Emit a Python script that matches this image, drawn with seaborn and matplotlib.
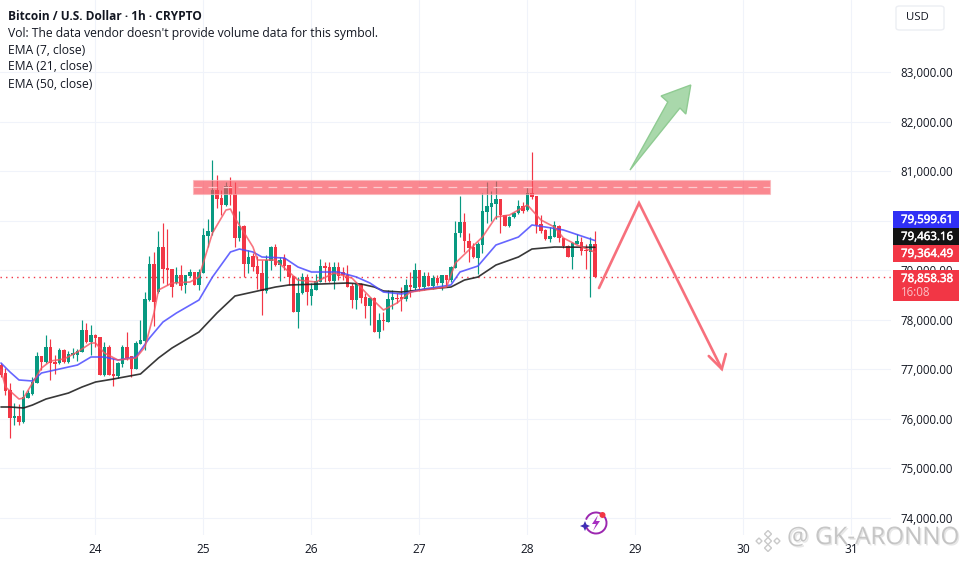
'''
BTC/USD 1h candles with EMA lines and hand drawn zone and arrows.
'''
import numpy as np
import pandas as pd
import seaborn as sns
import matplotlib.pyplot as plt
import matplotlib.patheffects as pe
from matplotlib.patches import Polygon, Rectangle, FancyBboxPatch, Ellipse, Arc
from matplotlib.ticker import FuncFormatter

opens = [77087, 76919, 76582, 76024, 76064, 75930, 76428, 76502, 76730, 77268, 77147, 77443, 77147, 77120, 77390,
         77147, 77295, 77282, 77356, 77793, 77558,
         77692, 77645, 76885, 77443, 76905, 76872, 77107, 77443, 77268, 77006, 77510, 77578, 78399, 79125, 78567,
         79468, 79045, 79018, 78735, 78897, 78702, 78890, 78964, 78702, 78950, 79690, 79778, 80619, 80457, 80316,
         80699, 80538, 79650, 79892, 79125, 79287, 79085, 78944, 78580, 79186, 79468, 79105, 79240, 79105, 78883,
         78163, 78533, 78856, 78480, 78601, 78769, 79085, 79065, 78789, 79065, 78971, 78903, 78681, 78399, 78722,
         78453, 78278, 78439, 77760, 77995, 77962, 78399, 78446, 78466, 78419, 78702, 78648, 79004, 78668, 78890,
         78688, 78836, 78735, 78903, 78803, 79052, 79744, 79980, 79596, 79462, 79253, 79516, 80182, 80283, 80336,
         80431, 80121, 79892, 80067, 80148, 80296, 80215, 80552, 80498, 79933, 79812, 79630, 79670, 79892, 79644,
         79496, 79274, 79529, 79576, 79408, 79374, 79529]
highs = [77120, 77020, 76717, 76313, 76300, 76582, 76582, 76851, 77356, 77270, 77692, 77605, 77289, 77423, 77403,
         77376, 77423, 77403, 77995, 77928, 77894,
         77712, 77659, 77558, 77490, 77221, 77154, 77490, 77760, 77270, 77578, 77995, 78560, 79287, 79368, 79791,
         79953, 79832, 79018, 79065, 79105, 78900, 79018, 78970, 79018, 79845, 80027, 81224, 80921, 80619, 80780,
         80888, 80780, 80195, 79912, 79408, 79341, 79287, 79206, 79307, 79489, 79529, 79273, 79327, 79105, 78883,
         78870, 78950, 78924, 78735, 78924, 79226, 79172, 79172, 79172, 79172, 79072, 79105, 78735, 78769, 78749,
         78534, 78453, 78466, 78130, 78164, 78601, 78601, 78547, 78668, 78816, 78971, 79152, 79004, 78971, 78971,
         78903, 78903, 78905, 78905, 79085, 79993, 80498, 80148, 79758, 79543, 79576, 80565, 80774, 80599, 80794,
         80431, 80121, 80094, 80182, 80417, 80383, 80686, 81386, 80498, 80114, 79825, 79866, 80000, 79913, 79644,
         79509, 79576, 79731, 79677, 79529, 79677, 79791]
lows = [76851, 76481, 75607, 75876, 75876, 75910, 76414, 76490, 76717, 76986, 77134, 76784, 76905, 77107, 77120,
        77120, 77221, 77174, 77350, 77537, 77289,
        77443, 76880, 76865, 76880, 76670, 76818, 77053, 77188, 76838, 77000, 77505, 77390, 78386, 77881, 78533,
        78735, 78702, 78466, 78722, 78601, 78547, 78870, 78700, 78601, 78937, 79475, 79711, 80249, 80114, 80296,
        80316, 79475, 79596, 78870, 78937, 78991, 78621, 78103, 78533, 79004, 79085, 78789, 79004, 78702, 78163,
        77827, 78520, 78298, 78298, 78600, 78755, 78769, 78769, 78621, 78802, 78802, 78665, 78244, 78210, 78332,
        78029, 77895, 77760, 77639, 77794, 77960, 78211, 78332, 78184, 78386, 78466, 78587, 78587, 78601, 78688,
        78621, 78702, 78601, 78668, 78769, 79038, 79664, 79374, 79159, 79240, 78924, 79341, 79946, 80000, 80027,
        79744, 79892, 79866, 80047, 80135, 80161, 80202, 80431, 79758, 79758, 79610, 79576, 79664, 79576, 79455,
        79274, 79025, 79529, 79307, 79025, 78466, 78858]
closes = [76885, 76569, 76010, 76064, 75943, 76434, 76515, 76750, 77268, 77147, 77443, 77134, 77100, 77390, 77147,
          77309, 77309, 77369, 77793, 77551, 77692,
          77632, 76885, 77443, 76885, 76865, 77120, 77443, 77228, 77006, 77537, 77591, 78419, 79125, 78358, 79468,
          79031, 79004, 78668, 78897, 78681, 78897, 78971, 78702, 78971, 79711, 79791, 80619, 80437, 80316, 80699,
          80518, 79643, 79892, 79125, 79267, 79065, 78924, 78580, 79206, 79468, 79105, 79206, 79085, 78870, 78163,
          78533, 78870, 78567, 78621, 78782, 79085, 79038, 78782, 79065, 78883, 78910, 78668, 78399, 78722, 78439,
          78278, 78439, 77760, 77995, 77975, 78419, 78466, 78419, 78419, 78702, 78668, 79004, 78668, 78890, 78688,
          78836, 78735, 78903, 78803, 79072, 79758, 79980, 79596, 79442, 79260, 79529, 80195, 80296, 80350, 80431,
          80121, 79892, 80067, 80161, 80296, 80202, 80552, 80471, 79913, 79785, 79630, 79691, 79913, 79644, 79489,
          79274, 79549, 79590, 79395, 79381, 79529, 78858]

ema7_hours = [-21, -20, -17, -16, -14, -12, -10, -7, -4, -1, 0, 2, 5, 9, 11, 13, 14, 17, 21, 23, 26, 29, 30, 31, 35,
              36, 40, 43, 45, 49, 53, 57, 61, 64, 67, 70, 78, 80, 83, 86, 89, 92, 96, 99, 102, 104, 107, 111]
ema7 = [76987, 76644, 76401, 76421, 76724, 77026, 77168, 77209, 77350, 77531, 77531, 77329, 77188, 77229, 77451,
        78137, 78601, 78742, 78762, 78863, 79751, 80215, 80235, 80054, 79469, 79206, 79206, 78964, 78802, 78762,
        78944, 78843, 78459, 78197, 78338, 78560, 78661, 79146, 79408, 79670, 80074, 80114, 80316, 80014, 79872,
        79650, 79509, 79364]
ema21_hours = [-21, -19, -17, -14, -12, -8, -4, -1, 2, 5, 9, 12, 15, 18, 23, 26, 30, 32, 35, 37, 42, 45, 48, 54, 58,
               61, 64, 68, 73, 79, 81, 85, 89, 94, 97, 100, 104, 111]
ema21 = [77128, 76946, 76785, 76765, 76926, 77007, 77087, 77249, 77249, 77188, 77249, 77632, 77955, 78137, 78399,
         78863, 79368, 79428, 79368, 79267, 79247, 79065, 78964, 78964, 78863, 78742, 78560, 78520, 78621, 78702,
         78964, 79085, 79509, 79670, 79913, 79872, 79812, 79599]
ema50_hours = [-21, -19, -16, -14, -11, -6, -3, 0, 4, 10, 14, 17, 23, 27, 31, 35, 40, 43, 50, 56, 59, 62, 64, 68, 74,
               79, 82, 85, 89, 94, 97, 102, 111]
ema50 = [76240, 76240, 76220, 76280, 76401, 76522, 76643, 76744, 76805, 76906, 77229, 77430, 77753, 78137, 78480,
         78560, 78661, 78702, 78722, 78742, 78722, 78661, 78581, 78560, 78621, 78661, 78802, 78863, 79105, 79267,
         79428, 79468, 79463]

day_labels = ["24", "25", "26", "27", "28", "29", "30", "31"]
day_hours = [0, 24, 48, 72, 96, 120, 144, 168]
price_ticks = [74000, 75000, 76000, 77000, 78000, 79000, 80000, 81000, 82000, 83000]
header_lines = ["Vol: The data vendor doesn't provide volume data for this symbol.",
                "EMA (7, close)", "EMA (21, close)", "EMA (50, close)"]

zone_hours = [21.7, 149.9]
zone_prices = [80538, 80821]
zone_mid = 80680
green_arrow = [(118.8, 81022), (127.2, 82395), (125.7, 82516), (132.3, 82738), (131.2, 82152), (129.9, 82274)]
red_path_hours = [111.9, 120.8, 139.2]
red_path_prices = [78641, 80356, 77007]
red_head_hours = [136.3, 139.2, 140.1]
red_head_prices = [77269, 77007, 77309]
last_price = 78858.38

UP = "#089981"
DOWN = "#f23645"
GRID = "#f0f3fa"
INK = "#131722"
FONT = "Open Sans"

sns.set_theme(style="white")
plt.rcParams["font.family"] = FONT

W, H = 964, 563
fig = plt.figure(figsize=(W / 100, H / 100), dpi=100)
ax = fig.add_axes([0, 1 - 535 / H, 891 / W, 535 / H])
ax.set_xlim(-21.22, 176.8)
ax.set_ylim(73657, 84453)
for side in ax.spines.values():
    side.set_visible(False)
ax.grid(True, color=GRID, linewidth=0.8)
ax.set_axisbelow(True)

candles = pd.DataFrame({"open": opens, "high": highs, "low": lows, "close": closes})
candles["hour"] = np.arange(len(candles)) - 21
colors = np.where(candles["close"] >= candles["open"], UP, DOWN)

ax.axhline(last_price, color=DOWN, linestyle=(0, (1, 3)), linewidth=1, zorder=1.5)
ax.vlines(candles["hour"], candles["low"], candles["high"], colors=colors, linewidth=0.85, zorder=2)
ax.bar(candles["hour"], (candles["close"] - candles["open"]).abs().clip(lower=25),
       bottom=candles[["open", "close"]].min(axis=1), width=0.8, color=colors, linewidth=0, zorder=2.1)

sns.lineplot(x=ema50_hours, y=ema50, ax=ax, color="#222222", linewidth=1.2, alpha=0.9, errorbar=None, zorder=3)
sns.lineplot(x=ema21_hours, y=ema21, ax=ax, color="#4b4bff", linewidth=1.2, alpha=0.85, errorbar=None, zorder=3)
sns.lineplot(x=ema7_hours, y=ema7, ax=ax, color="#f7525f", linewidth=1.2, alpha=0.8, errorbar=None, zorder=3)

# zone and arrows drawn by hand on the chart
ax.add_patch(Rectangle((zone_hours[0], zone_prices[0]), zone_hours[1] - zone_hours[0],
                       zone_prices[1] - zone_prices[0], facecolor="#f9505c", alpha=0.68,
                       edgecolor="#fbb3b8", linewidth=0.8, zorder=4))
ax.plot(zone_hours, [zone_mid, zone_mid], color="#fcc9cd", linewidth=0.9, linestyle=(0, (7, 5)), zorder=4.1)
ax.add_patch(Polygon(green_arrow, closed=True, facecolor="#a9d8ab", edgecolor="#8fcb92", linewidth=1, zorder=4))
ax.plot(red_path_hours, red_path_prices, color="#f7707c", linewidth=1.9, zorder=4, solid_joinstyle="miter")
ax.plot(red_head_hours, red_head_prices, color="#f7707c", linewidth=1.9, zorder=4, solid_joinstyle="miter")

ax.set_xticks(day_hours)
ax.set_xticklabels(day_labels)
ax.set_yticks(price_ticks)
# the 80,000 label sits behind the stacked EMA labels, only its grid line shows
ax.yaxis.set_major_formatter(FuncFormatter(lambda v, _: "" if v == 80000 else f"{v:,.2f}"))
ax.yaxis.tick_right()
ax.tick_params(axis="both", length=0, labelsize=8.3, labelcolor=INK, pad=7)
ax.tick_params(axis="x", labelsize=8.6, pad=6)
ax.set_xlabel("")
ax.set_ylabel("")


def px_text(x, y, text, **kwargs):
    return fig.text(x / W, 1 - y / H, text, va="center", **kwargs)


def px_box(x0, y0, x1, y1, color):
    fig.add_artist(Rectangle((x0 / W, 1 - y1 / H), (x1 - x0) / W, (y1 - y0) / H,
                             transform=fig.transFigure, facecolor=color, edgecolor="none"))


def px_shape(points, **kwargs):
    fig.add_artist(Polygon([(x / W, 1 - y / H) for x, y in points], closed=True,
                           transform=fig.transFigure, **kwargs))


px_text(8, 16, "Bitcoin / U.S. Dollar · 1h · CRYPTO", fontsize=8.6, fontweight="bold", color=INK)
for row, line in enumerate(header_lines):
    px_text(8, 33 + 17 * row, line, fontsize=8.7, color=INK)

# price labels on the right
px_box(893, 211, 959, 228, "#3030f5")
px_box(893, 228, 959, 245, "#131313")
px_box(893, 245, 959, 262, DOWN)
px_box(893, 270, 959, 301, DOWN)
firm = [pe.withStroke(linewidth=0.35, foreground="white")]
px_text(901, 219.5, "79,599.61", fontsize=8.3, color="white", path_effects=firm)
px_text(901, 236.5, "79,463.16", fontsize=8.3, color="white", path_effects=firm)
px_text(901, 253.5, "79,364.49", fontsize=8.3, color="white", path_effects=firm)
px_text(901, 278.5, "78,858.38", fontsize=8.3, color="white", path_effects=firm)
px_text(901, 292, "16:08", fontsize=8.3, color="#fbc0c5")

fig.add_artist(FancyBboxPatch((896 / W, 1 - 30 / H), 48 / W, 24 / H, transform=fig.transFigure,
                              boxstyle="round,pad=0,rounding_size=0.004", facecolor="white",
                              edgecolor="#eceef3", linewidth=1))
px_text(906, 18, "USD", fontsize=8.2, color=INK)

# little spark icon at the bottom of the chart
fig.add_artist(Arc((596 / W, 1 - 523 / H), 21 / W, 21 / H, theta1=-160, theta2=150,
                   transform=fig.transFigure, color="#9c27b0", linewidth=1.4))
px_shape([(598, 515), (592, 524), (596, 524), (593, 531), (600, 521), (596, 521)], facecolor="#a62fc0",
         edgecolor="none")
px_shape([(585, 521), (586.5, 524.5), (590, 526), (586.5, 527.5), (585, 531), (583.5, 527.5), (580, 526),
          (583.5, 524.5)], facecolor="#3f2db5", edgecolor="none")
fig.add_artist(Ellipse((602.5 / W, 1 - 515 / H), 6 / W, 6 / H, transform=fig.transFigure, facecolor=DOWN,
                       edgecolor="none"))

# watermark, logo made of small diamonds
for cx, cy, r in [(768, 534, 3.5), (759, 541, 3), (777, 541, 3), (768, 548, 3.5), (768, 541, 3.5)]:
    px_shape([(cx, cy - r), (cx + r, cy), (cx, cy + r), (cx - r, cy)], facecolor="none", edgecolor="#c9c9c9",
             linewidth=1)
mark = px_text(787, 538, "@ GK-ARONNO", fontsize=17.4, color="#bdbdbd", alpha=0.85)
mark.set_path_effects([pe.withSimplePatchShadow(offset=(1, -1), shadow_rgbFace="#dddddd", alpha=0.7)])

fig.savefig("out.png", dpi=100)
